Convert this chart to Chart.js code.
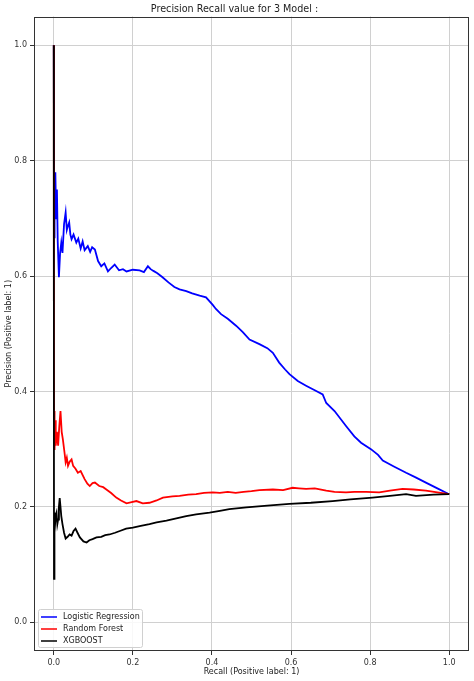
<!DOCTYPE html>
<html>
<head>
<meta charset="utf-8">
<script src="https://cdn.jsdelivr.net/npm/chart.js@4.4.1/dist/chart.umd.min.js"></script>
<style>
  html, body { margin: 0; padding: 0; background: #fff; }
</style>
</head>
<body>
<canvas id="pr" width="474" height="681"></canvas>
<script>
var tickVals = [0, 0.2, 0.4, 0.6, 0.8, 1.0];

var lrRecall = [0, 0.0005, 0.001, 0.0015, 0.0025, 0.004, 0.006, 0.008, 0.010, 0.013, 0.016, 0.019, 0.022, 0.026, 0.030, 0.033, 0.035, 0.039, 0.042, 0.045, 0.050, 0.057, 0.062, 0.068, 0.073, 0.078, 0.086, 0.092, 0.097, 0.104, 0.112, 0.12, 0.128, 0.137, 0.145, 0.154, 0.165, 0.175, 0.184, 0.20, 0.217, 0.228, 0.238, 0.245, 0.252, 0.262, 0.275, 0.29, 0.305, 0.318, 0.335, 0.35, 0.369, 0.385, 0.402, 0.41, 0.423, 0.44, 0.461, 0.478, 0.495, 0.52, 0.54, 0.554, 0.57, 0.585, 0.596, 0.617, 0.638, 0.66, 0.68, 0.689, 0.71, 0.739, 0.76, 0.777, 0.802, 0.82, 0.832, 0.86, 0.891, 0.915, 0.941, 0.97, 0.996, 1.0];
var lrPrecision = [1.0, 0.80, 0.667, 0.75, 0.70, 0.78, 0.70, 0.75, 0.66, 0.598, 0.64, 0.658, 0.64, 0.69, 0.71, 0.68, 0.685, 0.693, 0.672, 0.664, 0.672, 0.658, 0.665, 0.648, 0.660, 0.645, 0.652, 0.642, 0.650, 0.646, 0.626, 0.617, 0.622, 0.608, 0.614, 0.62, 0.610, 0.612, 0.608, 0.611, 0.610, 0.607, 0.617, 0.612, 0.609, 0.605, 0.598, 0.589, 0.581, 0.577, 0.574, 0.570, 0.566, 0.563, 0.550, 0.543, 0.534, 0.526, 0.514, 0.503, 0.490, 0.482, 0.475, 0.467, 0.450, 0.438, 0.430, 0.418, 0.410, 0.402, 0.395, 0.380, 0.366, 0.340, 0.322, 0.311, 0.300, 0.290, 0.280, 0.270, 0.259, 0.251, 0.242, 0.232, 0.223, 0.222];

var rfRecall = [0, 0.0003, 0.0008, 0.0015, 0.0025, 0.004, 0.005, 0.008, 0.011, 0.014, 0.017, 0.020, 0.023, 0.027, 0.030, 0.033, 0.036, 0.040, 0.045, 0.049, 0.055, 0.061, 0.068, 0.078, 0.085, 0.091, 0.098, 0.104, 0.115, 0.125, 0.133, 0.145, 0.158, 0.17, 0.184, 0.197, 0.209, 0.225, 0.242, 0.26, 0.276, 0.30, 0.318, 0.34, 0.36, 0.38, 0.402, 0.42, 0.44, 0.46, 0.48, 0.50, 0.52, 0.554, 0.58, 0.604, 0.62, 0.638, 0.66, 0.689, 0.71, 0.739, 0.76, 0.79, 0.823, 0.85, 0.882, 0.91, 0.941, 0.97, 1.0];
var rfPrecision = [1.0, 0.50, 0.30, 0.366, 0.30, 0.35, 0.306, 0.33, 0.306, 0.34, 0.366, 0.33, 0.317, 0.295, 0.277, 0.285, 0.271, 0.278, 0.282, 0.271, 0.266, 0.259, 0.262, 0.248, 0.24, 0.236, 0.241, 0.242, 0.236, 0.234, 0.23, 0.224, 0.216, 0.211, 0.206, 0.208, 0.21, 0.206, 0.207, 0.211, 0.216, 0.218, 0.219, 0.221, 0.222, 0.224, 0.225, 0.224, 0.226, 0.224, 0.226, 0.227, 0.229, 0.23, 0.229, 0.233, 0.232, 0.231, 0.232, 0.228, 0.226, 0.225, 0.226, 0.226, 0.225, 0.228, 0.231, 0.230, 0.228, 0.225, 0.222];

var xgbRecall = [0, 0.0003, 0.0006, 0.001, 0.0025, 0.005, 0.007, 0.009, 0.011, 0.013, 0.015, 0.017, 0.019, 0.022, 0.026, 0.030, 0.035, 0.040, 0.045, 0.050, 0.055, 0.060, 0.066, 0.075, 0.083, 0.090, 0.098, 0.108, 0.12, 0.13, 0.141, 0.155, 0.167, 0.183, 0.2, 0.22, 0.242, 0.26, 0.285, 0.31, 0.335, 0.36, 0.394, 0.42, 0.444, 0.487, 0.54, 0.596, 0.65, 0.705, 0.75, 0.806, 0.85, 0.891, 0.916, 0.96, 1.0];
var xgbPrecision = [1.0, 0.5, 0.075, 0.19, 0.156, 0.185, 0.19, 0.17, 0.178, 0.20, 0.215, 0.20, 0.184, 0.17, 0.155, 0.145, 0.148, 0.152, 0.150, 0.158, 0.162, 0.155, 0.147, 0.140, 0.138, 0.142, 0.144, 0.147, 0.148, 0.151, 0.152, 0.155, 0.158, 0.162, 0.164, 0.167, 0.170, 0.173, 0.176, 0.180, 0.184, 0.187, 0.190, 0.193, 0.196, 0.199, 0.202, 0.205, 0.207, 0.210, 0.213, 0.216, 0.219, 0.222, 0.219, 0.221, 0.222];

function toPoints(xs, ys) {
  var arr = [];
  for (var i = 0; i < xs.length; i++) {
    arr.push({x: xs[i], y: ys[i]});
  }
  return arr;
}

// box around the axes + legend in the lower left corner, like matplotlib
var framePlugin = {
  id: 'frame',
  afterDraw: function(chart) {
    var c = chart.ctx;
    var a = chart.chartArea;
    c.save();
    c.strokeStyle = '#333';
    c.lineWidth = 1;
    c.strokeRect(Math.round(a.left) + 0.5, Math.round(a.top) + 0.5, Math.round(a.right - a.left) - 1, Math.round(a.bottom - a.top) - 1);

    var bx = a.left + 4, by = a.bottom - 42, bw = 104, bh = 38;
    c.fillStyle = 'rgba(255,255,255,0.85)';
    c.strokeStyle = '#d0d0d0';
    c.beginPath();
    c.roundRect(bx + 0.5, by + 0.5, bw, bh, 2);
    c.fill();
    c.stroke();

    c.font = '8px "DejaVu Sans"';
    c.textBaseline = 'middle';
    chart.data.datasets.forEach(function(ds, i) {
      var y = by + 8 + i * 12;
      c.strokeStyle = ds.borderColor;
      c.lineWidth = 1.5;
      c.beginPath();
      c.moveTo(bx + 3, y);
      c.lineTo(bx + 19, y);
      c.stroke();
      c.fillStyle = '#222';
      c.fillText(ds.label, bx + 25, y);
    });
    c.restore();
  }
};

var ctx = document.getElementById('pr').getContext('2d');
var prChart = new Chart(ctx, {
  type: 'scatter',
  data: {
    datasets: [{
      label: 'Logistic Regression',
      data: toPoints(lrRecall, lrPrecision),
      borderColor: 'blue',
      backgroundColor: 'blue',
      borderWidth: 1.8,
      showLine: true,
      pointRadius: 0,
      order: 3
    }, {
      label: 'Random Forest',
      data: toPoints(rfRecall, rfPrecision),
      borderColor: 'red',
      backgroundColor: 'red',
      borderWidth: 1.8,
      showLine: true,
      pointRadius: 0,
      order: 2
    }, {
      label: 'XGBOOST',
      data: toPoints(xgbRecall, xgbPrecision),
      borderColor: 'black',
      backgroundColor: 'black',
      borderWidth: 1.8,
      showLine: true,
      pointRadius: 0,
      order: 1
    }]
  },
  options: {
    responsive: false,
    animation: false,
    devicePixelRatio: 1,
    layout: {padding: {left: 0, right: 5, top: 0, bottom: 0}},
    plugins: {
      legend: {display: false},
      tooltip: {enabled: false},
      title: {
        display: true,
        text: 'Precision Recall value for 3 Model :',
        color: '#222',
        font: {family: 'DejaVu Sans', size: 9.6, weight: 'normal'},
        padding: {top: 4, bottom: 1}
      }
    },
    scales: {
      x: {
        type: 'linear',
        min: -0.05,
        max: 1.05,
        afterBuildTicks: function(axis) { axis.ticks = tickVals.map(function(v) { return {value: v}; }); },
        afterFit: function(scale) { scale.height = 30; },
        ticks: {
          color: '#333',
          font: {family: 'DejaVu Sans', size: 8},
          padding: 3,
          maxRotation: 0,
          callback: function(v) { return v.toFixed(1); }
        },
        grid: {color: '#d0d0d0', lineWidth: 1, tickLength: 4, tickColor: '#333'},
        border: {display: false},
        title: {
          display: true,
          text: 'Recall (Positive label: 1)',
          color: '#222',
          font: {family: 'DejaVu Sans', size: 8}
        }
      },
      y: {
        type: 'linear',
        min: -0.05,
        max: 1.05,
        afterBuildTicks: function(axis) { axis.ticks = tickVals.map(function(v) { return {value: v}; }); },
        afterFit: function(scale) { scale.width = 34; },
        ticks: {
          color: '#333',
          font: {family: 'DejaVu Sans', size: 8},
          padding: 3,
          callback: function(v) { return v.toFixed(1); }
        },
        grid: {color: '#d0d0d0', lineWidth: 1, tickLength: 4, tickColor: '#333'},
        border: {display: false},
        title: {
          display: true,
          text: 'Precision (Positive label: 1)',
          color: '#222',
          font: {family: 'DejaVu Sans', size: 8}
        }
      }
    }
  },
  plugins: [framePlugin]
});
</script>
</body>
</html>
